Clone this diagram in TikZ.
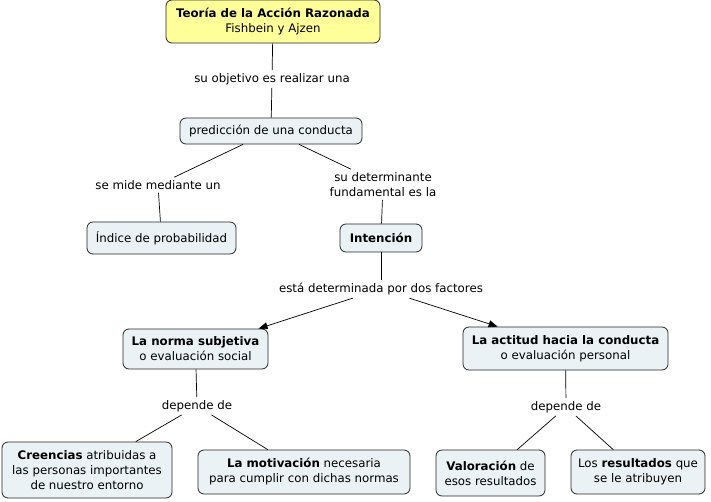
\documentclass[tikz,border=0pt]{standalone}
\usepackage{fontspec}
\setmainfont{DejaVu Sans}
\usetikzlibrary{arrows.meta}
\definecolor{cmapfill}{RGB}{234, 242, 245}
\definecolor{cmapyellow}{RGB}{255, 255, 153}
\tikzset{
  concept/.style={rounded corners=6pt, draw=black!85, fill=#1, line width=0.8pt,
                  align=center, font=\fontsize{11.8}{15}\selectfont, inner sep=2pt},
  concept/.default=cmapfill,
  dims/.style args={#1x#2}{minimum width=#1pt, minimum height=#2pt},
  linklbl/.style={align=center, font=\fontsize{11.8}{15}\selectfont, inner sep=3pt},
  lnk/.style={line width=0.7pt},
  arr/.style={lnk, -{Triangle[length=9pt, width=7pt]}},
}

\begin{document}
\begin{tikzpicture}[x=1pt, y=-1pt]
  \useasboundingbox (0, 0) rectangle (711, 502);
  % concepts
  \node[concept=cmapyellow, dims=214x43] (teoria) at (273, 21.5)
    {\textbf{Teoría de la Acción Razonada}\\Fishbein y Ajzen};
  \node[concept, dims=182x26] (pred) at (271, 131) {predicción de una conducta};
  \node[concept, dims=149x32] (indice) at (161.5, 238) {Índice de probabilidad};
  \node[concept, dims=82x28] (intencion) at (381, 238) {\textbf{Intención}};
  \node[concept, dims=145x40] (norma) at (195.5, 349)
    {\textbf{La norma subjetiva}\\o evaluación social};
  \node[concept, dims=205x43] (actitud) at (565.5, 348.5)
    {\textbf{La actitud hacia la conducta}\\o evaluación personal};
  \node[concept, dims=170x56] (creencias) at (87, 470)
    {\textbf{Creencias} atribuidas a\\las personas importantes\\de nuestro entorno};
  \node[concept, dims=212x44] (motiv) at (304, 472)
    {\textbf{La motivación} necesaria\\para cumplir con dichas normas};
  \node[concept, dims=109x46] (valor) at (490.5, 473)
    {\textbf{Valoración} de\\esos resultados};
  \node[concept, dims=134x44] (result) at (638, 472)
    {Los \textbf{resultados} que\\se le atribuyen};
  % linking phrases
  \node[linklbl] (objetivo) at (272, 79) {su objetivo es realizar una};
  \node[linklbl] (mide) at (158, 185) {se mide mediante un};
  \node[linklbl] (determ) at (383, 184.5) {su determinante\\fundamental es la};
  \node[linklbl] (dosfact) at (381, 289) {está determinada por dos factores};
  \node[linklbl] (depIzq) at (197, 406) {depende de};
  \node[linklbl] (depDer) at (566, 407) {depende de};
  % connectors
  \draw[lnk] (teoria) -- (objetivo);
  \draw[lnk] (objetivo) -- (pred);
  \draw[lnk] (pred) -- (mide);
  \draw[lnk] (mide) -- (indice);
  \draw[lnk] (pred) -- (determ);
  \draw[lnk] (determ) -- (intencion);
  \draw[lnk] (intencion) -- (dosfact);
  \draw[arr] (dosfact) -- (norma);
  \draw[arr] (dosfact) -- (actitud);
  \draw[lnk] (norma) -- (depIzq);
  \draw[lnk] (depIzq) -- (creencias);
  \draw[lnk] (depIzq) -- (motiv);
  \draw[lnk] (actitud) -- (depDer);
  \draw[lnk] (depDer) -- (valor);
  \draw[lnk] (depDer) -- (result);
\end{tikzpicture}
\end{document}
